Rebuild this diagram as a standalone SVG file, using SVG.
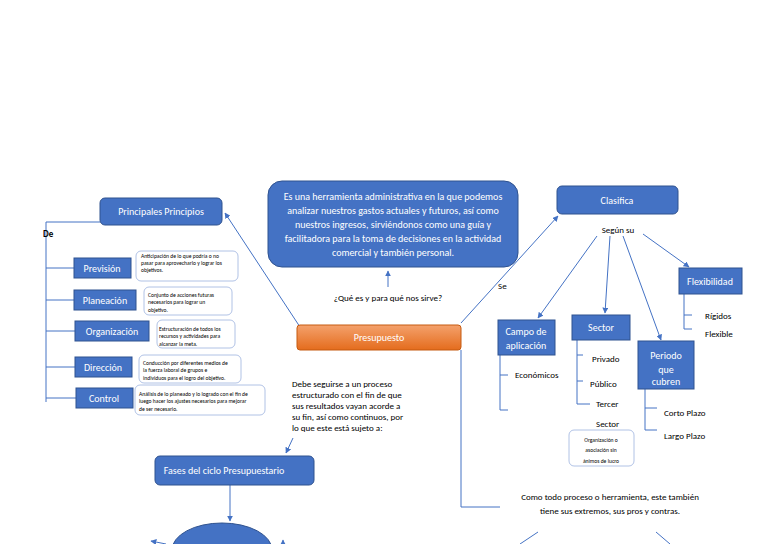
<svg xmlns="http://www.w3.org/2000/svg" width="768" height="544" viewBox="0 0 768 544">
<style>
text{font-family:Calibri,Carlito,"Liberation Sans",sans-serif;}
.b{fill:#4472C4;stroke:#2F528F;stroke-width:1}
.w{fill:#fff;font-size:10px;text-anchor:middle}
.k{fill:#000;font-size:9px}
.s{fill:#000;font-size:5.6px}
.l{stroke:#4472C4;stroke-width:1;fill:none}
.d{fill:none;stroke:#9DB2DE;stroke-width:0.8}
</style>
<defs>
<marker id="a" viewBox="0 0 10 10" refX="9" refY="5" markerWidth="6" markerHeight="6" orient="auto"><path d="M0,0L10,5L0,10z" fill="#4472C4"/></marker>
<linearGradient id="o" x1="0" y1="0" x2="0" y2="1"><stop offset="0" stop-color="#F4A16C"/><stop offset="1" stop-color="#E46C1D"/></linearGradient>
</defs>
<rect width="768" height="544" fill="#fff"/>
<g id="connectors">
<path class="l" d="M100,222H46V402M46,268H74M46,300H74M46,331H75M46,367H75M46,398H76"/>
<line class="l" x1="300" y1="327" x2="225" y2="213" marker-end="url(#a)"/>
<line class="l" x1="388" y1="287" x2="388" y2="271" marker-end="url(#a)"/>
<line class="l" x1="461" y1="323" x2="558" y2="216" marker-end="url(#a)"/>
<line class="l" x1="597" y1="236" x2="538" y2="318" marker-end="url(#a)"/>
<line class="l" x1="610" y1="236" x2="605" y2="313" marker-end="url(#a)"/>
<line class="l" x1="623" y1="236" x2="661" y2="340" marker-end="url(#a)"/>
<line class="l" x1="643" y1="234" x2="689" y2="267" marker-end="url(#a)"/>
<path class="l" d="M684,294V329M684,315H692M684,329H692"/>
<path class="l" d="M577,340V404M577,355H583M577,381H583M577,404H590"/>
<path class="l" d="M645,389V430M645,408H657M645,430H657"/>
<path class="l" d="M500,355V410M500,375H508M500,410H508"/>
<path class="l" d="M461,350V507H500"/>
<line class="l" x1="293" y1="438" x2="286" y2="453" marker-end="url(#a)"/>
<line class="l" x1="230" y1="485" x2="230" y2="521" marker-end="url(#a)"/>
<line class="l" x1="538" y1="532" x2="520" y2="544"/>
<line class="l" x1="656" y1="532" x2="670" y2="544"/>
<line class="l" x1="166" y1="544" x2="151" y2="541" marker-end="url(#a)"/>
<line class="l" x1="283" y1="548" x2="283" y2="540" marker-end="url(#a)"/>
</g>
<g id="principios"><rect class="b" x="100" y="198" width="122" height="27" rx="5"/><text class="w" x="161" y="215">Principales Principios</text></g>
<text class="k" x="43" y="237" font-weight="bold">De</text>
<g id="prevision"><rect class="b" x="74" y="258" width="57" height="20"/><text class="w" x="102" y="272">Previsión</text>
<rect class="d" x="136" y="251" width="102" height="30" rx="5"/><text class="s" x="141" y="258">Anticipación de lo que podría o no</text><text class="s" x="141" y="265">pasar para aprovecharlo y lograr los</text><text class="s" x="141" y="272">objetivos.</text></g>
<g id="planeacion"><rect class="b" x="74" y="290" width="62" height="20"/><text class="w" x="105" y="304">Planeación</text>
<rect class="d" x="144" y="287" width="88" height="28" rx="5"/><text class="s" x="148" y="297">Conjunto de acciones futuras</text><text class="s" x="148" y="304">necesarios para lograr un</text><text class="s" x="148" y="312">objetivo.</text></g>
<g id="organizacion"><rect class="b" x="75" y="321" width="74" height="20"/><text class="w" x="112" y="335">Organización</text>
<rect class="d" x="157" y="320" width="78" height="28" rx="5"/><text class="s" x="159" y="331">Estructuración de todos los</text><text class="s" x="159" y="338">recursos y actividades para</text><text class="s" x="159" y="346">alcanzar la meta.</text></g>
<g id="direccion"><rect class="b" x="75" y="357" width="57" height="20"/><text class="w" x="103" y="371">Dirección</text>
<rect class="d" x="139" y="355" width="102" height="28" rx="5"/><text class="s" x="143" y="365">Conducción por diferentes medios de</text><text class="s" x="143" y="372">la fuerza laboral de grupos e</text><text class="s" x="143" y="380">individuos para el logro del objetivo.</text></g>
<g id="control"><rect class="b" x="76" y="388" width="57" height="20"/><text class="w" x="104" y="402">Control</text>
<rect class="d" x="135" y="385" width="130" height="30" rx="5"/><text class="s" x="139" y="396">Análisis de lo planeado y lo logrado con el fin de</text><text class="s" x="139" y="403">luego hacer los ajustes necesarios para mejorar</text><text class="s" x="139" y="411">de ser necesario.</text></g>
<g id="definicion"><rect class="b" x="268" y="181" width="250" height="86" rx="14"/>
<text class="w" font-size="9.5" x="393" y="200">Es una herramienta administrativa en la que podemos</text>
<text class="w" font-size="9.5" x="393" y="214">analizar nuestros gastos actuales y futuros, así como</text>
<text class="w" font-size="9.5" x="393" y="228">nuestros ingresos, sirviéndonos como una guía y</text>
<text class="w" font-size="9.5" x="393" y="242">facilitadora para la toma de decisiones en la actividad</text>
<text class="w" font-size="9.5" x="393" y="256">comercial y también personal.</text></g>
<text class="k" x="388" y="301" text-anchor="middle" font-size="9.5">¿Qué es y para qué nos sirve?</text>
<g id="presupuesto"><rect x="297" y="325" width="164" height="25" rx="3" fill="url(#o)" stroke="#C55A11"/><text class="w" x="379" y="341">Presupuesto</text></g>
<text class="k" x="498" y="289">Se</text>
<g id="clasifica"><rect class="b" x="557" y="186" width="121" height="28" rx="5"/><text class="w" x="617" y="204">Clasifica</text></g>
<text class="k" x="618" y="233" font-size="7" text-anchor="middle">Según su</text>
<g id="campo"><rect class="b" x="498" y="320" width="57" height="35"/><text class="w" x="526" y="335">Campo de</text><text class="w" x="526" y="349">aplicación</text></g>
<text class="k" x="515" y="378">Económicos</text>
<g id="sector"><rect class="b" x="572" y="315" width="58" height="25"/><text class="w" x="601" y="331">Sector</text></g>
<text class="k" x="592" y="362">Privado</text><text class="k" x="590" y="387">Público</text><text class="k" x="596" y="407">Tercer</text><text class="k" x="596" y="427">Sector</text>
<rect class="d" x="569" y="430" width="65" height="36" rx="5"/>
<text class="s" font-size="6.5" x="601" y="442" text-anchor="middle">Organización  o</text><text class="s" font-size="6.5" x="601" y="452" text-anchor="middle">asociación    sin</text><text class="s" font-size="6.5" x="601" y="463" text-anchor="middle">ánimos de lucro</text>
<g id="periodo"><rect class="b" x="638" y="341" width="56" height="48"/><text class="w" x="666" y="359">Periodo</text><text class="w" x="666" y="373">que</text><text class="w" x="666" y="385">cubren</text></g>
<text class="k" x="664" y="416">Corto Plazo</text><text class="k" x="664" y="439">Largo Plazo</text>
<g id="flexibilidad"><rect class="b" x="679" y="268" width="63" height="26"/><text class="w" x="710" y="285">Flexibilidad</text></g>
<text class="k" x="705" y="319">Rígidos</text><text class="k" x="705" y="337">Flexible</text>
<g id="extremos"><text class="k" x="610" y="500" text-anchor="middle">Como todo proceso o herramienta, este también</text><text class="k" x="610" y="514" text-anchor="middle">tiene sus extremos, sus pros y contras.</text></g>
<g id="debe"><text class="k" font-size="7.5" x="292" y="387">Debe seguirse a un proceso</text><text class="k" font-size="7.5" x="292" y="398">estructurado con el fin de que</text><text class="k" font-size="7.5" x="292" y="409">sus resultados vayan acorde a</text><text class="k" font-size="7.5" x="292" y="420">su fin, así como continuos, por</text><text class="k" font-size="7.5" x="292" y="431">lo que este está sujeto a:</text></g>
<g id="fases"><rect class="b" x="155" y="456" width="159" height="29" rx="5"/><text class="w" x="224" y="474">Fases del ciclo Presupuestario</text></g>
<g id="ciclo"><ellipse class="b" cx="222" cy="550" rx="50" ry="27"/></g>
</svg>
